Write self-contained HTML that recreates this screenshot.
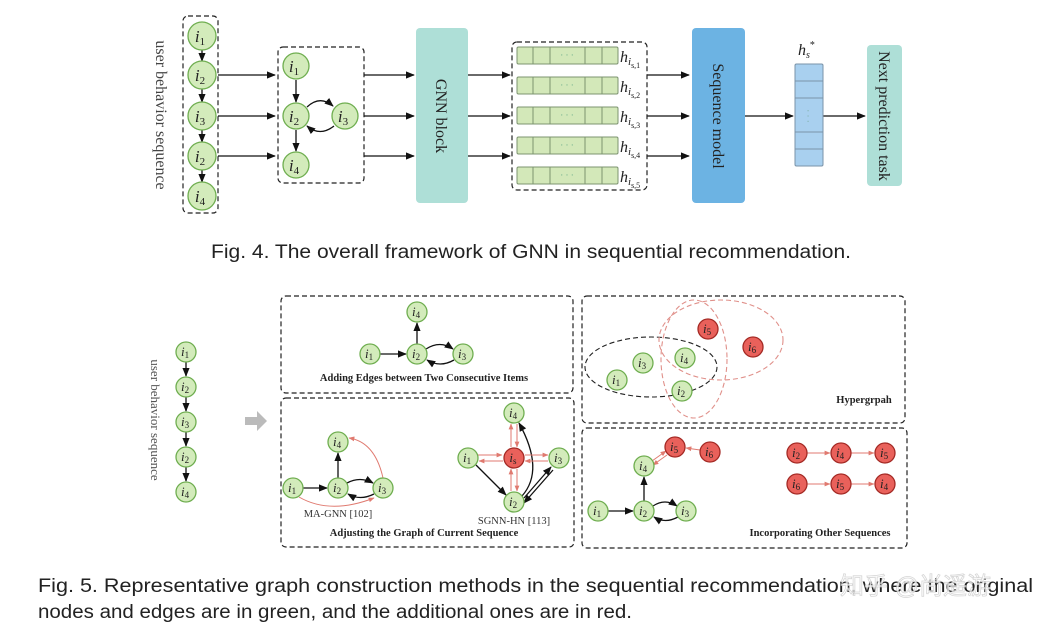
<!DOCTYPE html>
<html><head><meta charset="utf-8"><style>
html,body{margin:0;padding:0;background:#fff;}
svg{display:block}
.n{fill:#d3ebbb;stroke:#6fae50;stroke-width:1.3}
.r{fill:#e9615b;stroke:#a42a25;stroke-width:1.3}
.t{font-family:"Liberation Serif",serif;font-style:italic;text-anchor:middle;fill:#222}
.ts{font-family:"Liberation Serif",serif;font-style:italic;text-anchor:start;fill:#222}
.bx{fill:none;stroke:#222;stroke-width:1.2;stroke-dasharray:5,3}
.e{stroke:#111;stroke-width:1.3;fill:none}
.re{stroke:#e07a70;stroke-width:1;fill:none}
.lb{font-family:"Liberation Serif",serif;font-weight:bold;font-size:10.5px;text-anchor:middle;fill:#222}
.cap{font-family:"Liberation Sans",sans-serif;font-size:19px;fill:#222}
</style></head><body>
<svg width="1061" height="628" viewBox="0 0 1061 628" xmlns="http://www.w3.org/2000/svg">
<defs>
<marker id="a" viewBox="0 0 10 10" refX="9" refY="5" markerWidth="7" markerHeight="7" orient="auto"><path d="M0,1 L10,5 L0,9z" fill="#111"/></marker>
<marker id="ra" viewBox="0 0 10 10" refX="9" refY="5" markerWidth="6" markerHeight="6" orient="auto"><path d="M0,1 L10,5 L0,9z" fill="#e07a70"/></marker>
</defs>

<!-- ===== FIG 4 ===== -->
<text transform="translate(156,115) rotate(90)" text-anchor="middle" font-family="Liberation Serif,serif" font-size="16" fill="#444">user behavior sequence</text>
<rect class="bx" x="183" y="16" width="35" height="197" rx="5"/>
<g class="e" marker-end="url(#a)">
<line x1="202" y1="50" x2="202" y2="61"/><line x1="202" y1="89" x2="202" y2="102"/><line x1="202" y1="130" x2="202" y2="142"/><line x1="202" y1="170" x2="202" y2="182"/>
<line x1="218" y1="75" x2="275" y2="75"/><line x1="218" y1="116" x2="275" y2="116"/><line x1="218" y1="156" x2="275" y2="156"/>
</g>
<g font-size="17">
<circle class="n" cx="202" cy="36" r="14"/><text class="t" x="200" y="42">i<tspan font-size="11" font-style="normal" dy="3">1</tspan></text>
<circle class="n" cx="202" cy="75" r="14"/><text class="t" x="200" y="81">i<tspan font-size="11" font-style="normal" dy="3">2</tspan></text>
<circle class="n" cx="202" cy="116" r="14"/><text class="t" x="200" y="122">i<tspan font-size="11" font-style="normal" dy="3">3</tspan></text>
<circle class="n" cx="202" cy="156" r="14"/><text class="t" x="200" y="162">i<tspan font-size="11" font-style="normal" dy="3">2</tspan></text>
<circle class="n" cx="202" cy="196" r="14"/><text class="t" x="200" y="202">i<tspan font-size="11" font-style="normal" dy="3">4</tspan></text>
</g>
<rect class="bx" x="278" y="47" width="86" height="136" rx="5"/>
<g class="e" marker-end="url(#a)">
<line x1="296" y1="80" x2="296" y2="102"/><line x1="296" y1="130" x2="296" y2="151"/>
<path d="M307,107 Q320,95 333,106"/><path d="M334,126 Q320,137 307,126"/>
<line x1="364" y1="75" x2="414" y2="75"/><line x1="364" y1="116" x2="414" y2="116"/><line x1="364" y1="156" x2="414" y2="156"/>
</g>
<g font-size="17">
<circle class="n" cx="296" cy="66" r="13"/><text class="t" x="294" y="72">i<tspan font-size="11" font-style="normal" dy="3">1</tspan></text>
<circle class="n" cx="296" cy="116" r="13"/><text class="t" x="294" y="122">i<tspan font-size="11" font-style="normal" dy="3">2</tspan></text>
<circle class="n" cx="345" cy="116" r="13"/><text class="t" x="343" y="122">i<tspan font-size="11" font-style="normal" dy="3">3</tspan></text>
<circle class="n" cx="296" cy="165" r="13"/><text class="t" x="294" y="171">i<tspan font-size="11" font-style="normal" dy="3">4</tspan></text>
</g>
<rect x="416" y="28" width="52" height="175" rx="4" fill="#aedfd7"/>
<text transform="translate(436,116) rotate(90)" text-anchor="middle" font-family="Liberation Serif,serif" font-size="16" fill="#222">GNN block</text>
<g class="e" marker-end="url(#a)">
<line x1="468" y1="75" x2="510" y2="75"/><line x1="468" y1="116" x2="510" y2="116"/><line x1="468" y1="156" x2="510" y2="156"/>
<line x1="647" y1="75" x2="689" y2="75"/><line x1="647" y1="116" x2="689" y2="116"/><line x1="647" y1="156" x2="689" y2="156"/>
<line x1="745" y1="116" x2="793" y2="116"/><line x1="823" y1="116" x2="865" y2="116"/>
</g>
<rect class="bx" x="512" y="42" width="135" height="148" rx="5"/>
<g fill="#d3e8b9" stroke="#7d9470" stroke-width="1">
<g id="bar"><rect x="517" y="47" width="101" height="17" rx="1.5"/><path d="M533,47v17M550,47v17M585,47v17M602,47v17"/><text x="567" y="58" font-size="9" fill="#6a8" stroke="none" text-anchor="middle">· · ·</text></g>
<use href="#bar" y="30"/><use href="#bar" y="60"/><use href="#bar" y="90"/><use href="#bar" y="120"/>
</g>
<g font-size="16">
<text class="ts" x="620" y="62">h<tspan font-size="11" dy="3">i</tspan><tspan font-size="8" font-style="normal" dy="3">s,1</tspan></text>
<text class="ts" x="620" y="92">h<tspan font-size="11" dy="3">i</tspan><tspan font-size="8" font-style="normal" dy="3">s,2</tspan></text>
<text class="ts" x="620" y="122">h<tspan font-size="11" dy="3">i</tspan><tspan font-size="8" font-style="normal" dy="3">s,3</tspan></text>
<text class="ts" x="620" y="152">h<tspan font-size="11" dy="3">i</tspan><tspan font-size="8" font-style="normal" dy="3">s,4</tspan></text>
<text class="ts" x="620" y="182">h<tspan font-size="11" dy="3">i</tspan><tspan font-size="8" font-style="normal" dy="3">s,5</tspan></text>
</g>
<rect x="692" y="28" width="53" height="175" rx="4" fill="#6cb3e3"/>
<text transform="translate(713,116) rotate(90)" text-anchor="middle" font-family="Liberation Serif,serif" font-size="16" fill="#222">Sequence model</text>
<text class="ts" x="798" y="55" font-size="16">h<tspan font-size="10" dy="3">s</tspan><tspan font-size="10" font-style="normal" dy="-10">*</tspan></text>
<g fill="#a9d0ef" stroke="#7a93a8" stroke-width="1"><rect x="795" y="64" width="28" height="102" rx="1.5"/><path d="M795,81h28M795,98h28M795,132h28M795,149h28"/></g>
<text x="809" y="120" font-size="9" fill="#7a9" transform="rotate(90,809,116)" text-anchor="middle">· · ·</text>
<rect x="867" y="45" width="35" height="141" rx="4" fill="#aedfd7"/>
<text transform="translate(879,116) rotate(90)" text-anchor="middle" font-family="Liberation Serif,serif" font-size="16" fill="#222">Next prediction task</text>
<text class="cap" x="211" y="258" textLength="640" lengthAdjust="spacingAndGlyphs">Fig. 4.  The overall framework of GNN in sequential recommendation.</text>

<!-- ===== FIG 5 ===== -->
<text transform="translate(151,420) rotate(90)" text-anchor="middle" font-family="Liberation Serif,serif" font-size="13" fill="#555">user behavior sequence</text>
<g class="e" marker-end="url(#a)" stroke-width="1">
<line x1="186" y1="362" x2="186" y2="376"/><line x1="186" y1="397" x2="186" y2="411"/><line x1="186" y1="432" x2="186" y2="446"/><line x1="186" y1="467" x2="186" y2="481"/>
</g>
<path d="M245,417 h12 v-6 l10,10 l-10,10 v-6 h-12z" fill="#bbb"/>
<rect class="bx" x="281" y="296" width="292" height="97" rx="5"/>
<rect class="bx" x="281" y="398" width="293" height="149" rx="5"/>
<rect class="bx" x="582" y="296" width="323" height="127" rx="5"/>
<rect class="bx" x="582" y="428" width="325" height="120" rx="5"/>

<g class="e" marker-end="url(#a)" stroke-width="1.1">
<line x1="380" y1="354" x2="406" y2="354"/><line x1="417" y1="344" x2="417" y2="323"/><path d="M426,349 Q440,340 453,349"/><path d="M454,360 Q440,368 427,360"/>
<line x1="303" y1="488" x2="327" y2="488"/><line x1="338" y1="478" x2="338" y2="453"/><path d="M347,483 Q360,476 373,483"/><path d="M374,494 Q360,501 348,494"/>
<line x1="476" y1="465" x2="506" y2="495"/><path d="M522,496 Q545,470 519,423"/><line x1="524" y1="498" x2="551" y2="467"/><line x1="553" y1="470" x2="524" y2="503"/>
<line x1="608" y1="511" x2="633" y2="511"/><line x1="644" y1="501" x2="644" y2="477"/><path d="M653,506 Q665,498 677,506"/><path d="M678,517 Q665,524 654,517"/>
</g>
<g class="re" marker-end="url(#ra)">
<path d="M299,497 Q330,515 374,498"/><path d="M383,478 Q375,442 349,438"/>
<line x1="478" y1="455" x2="502" y2="455"/><line x1="503" y1="461" x2="479" y2="461"/>
<line x1="525" y1="455" x2="548" y2="455"/><line x1="548" y1="461" x2="525" y2="461"/>
<line x1="511" y1="447" x2="511" y2="424"/><line x1="517" y1="424" x2="517" y2="447"/>
<line x1="511" y1="491" x2="511" y2="469"/><line x1="517" y1="469" x2="517" y2="491"/>
<line x1="652" y1="461" x2="666" y2="451"/><line x1="667" y1="455" x2="653" y2="465"/><line x1="700" y1="450" x2="686" y2="448"/>
<line x1="807" y1="453" x2="830" y2="453"/><line x1="851" y1="453" x2="874" y2="453"/>
<line x1="807" y1="484" x2="830" y2="484"/><line x1="851" y1="484" x2="874" y2="484"/>
</g>
<g fill="none" stroke-dasharray="5,3" stroke-width="1.1">
<ellipse cx="651" cy="367" rx="66" ry="30" stroke="#222"/>
<ellipse cx="694" cy="359" rx="33" ry="59" stroke="#e0908a"/>
<ellipse cx="721" cy="340" rx="62" ry="40" stroke="#e0908a"/>
</g>

<g font-size="13">
<circle class="n" cx="186" cy="352" r="10"/><text class="t" x="185" y="356">i<tspan font-size="9" font-style="normal" dy="2">1</tspan></text>
<circle class="n" cx="186" cy="387" r="10"/><text class="t" x="185" y="391">i<tspan font-size="9" font-style="normal" dy="2">2</tspan></text>
<circle class="n" cx="186" cy="422" r="10"/><text class="t" x="185" y="426">i<tspan font-size="9" font-style="normal" dy="2">3</tspan></text>
<circle class="n" cx="186" cy="457" r="10"/><text class="t" x="185" y="461">i<tspan font-size="9" font-style="normal" dy="2">2</tspan></text>
<circle class="n" cx="186" cy="492" r="10"/><text class="t" x="185" y="496">i<tspan font-size="9" font-style="normal" dy="2">4</tspan></text>
<circle class="n" cx="417" cy="312" r="10"/><text class="t" x="416" y="316">i<tspan font-size="9" font-style="normal" dy="2">4</tspan></text>
<circle class="n" cx="370" cy="354" r="10"/><text class="t" x="369" y="358">i<tspan font-size="9" font-style="normal" dy="2">1</tspan></text>
<circle class="n" cx="417" cy="354" r="10"/><text class="t" x="416" y="358">i<tspan font-size="9" font-style="normal" dy="2">2</tspan></text>
<circle class="n" cx="463" cy="354" r="10"/><text class="t" x="462" y="358">i<tspan font-size="9" font-style="normal" dy="2">3</tspan></text>
<circle class="n" cx="338" cy="442" r="10"/><text class="t" x="337" y="446">i<tspan font-size="9" font-style="normal" dy="2">4</tspan></text>
<circle class="n" cx="293" cy="488" r="10"/><text class="t" x="292" y="492">i<tspan font-size="9" font-style="normal" dy="2">1</tspan></text>
<circle class="n" cx="338" cy="488" r="10"/><text class="t" x="337" y="492">i<tspan font-size="9" font-style="normal" dy="2">2</tspan></text>
<circle class="n" cx="383" cy="488" r="10"/><text class="t" x="382" y="492">i<tspan font-size="9" font-style="normal" dy="2">3</tspan></text>
<circle class="n" cx="514" cy="413" r="10"/><text class="t" x="513" y="417">i<tspan font-size="9" font-style="normal" dy="2">4</tspan></text>
<circle class="n" cx="468" cy="458" r="10"/><text class="t" x="467" y="462">i<tspan font-size="9" font-style="normal" dy="2">1</tspan></text>
<circle class="r" cx="514" cy="458" r="10"/><text class="t" x="513" y="462">i<tspan font-size="9" font-style="normal" dy="2">s</tspan></text>
<circle class="n" cx="559" cy="458" r="10"/><text class="t" x="558" y="462">i<tspan font-size="9" font-style="normal" dy="2">3</tspan></text>
<circle class="n" cx="514" cy="502" r="10"/><text class="t" x="513" y="506">i<tspan font-size="9" font-style="normal" dy="2">2</tspan></text>
<circle class="n" cx="617" cy="380" r="10"/><text class="t" x="616" y="384">i<tspan font-size="9" font-style="normal" dy="2">1</tspan></text>
<circle class="n" cx="643" cy="363" r="10"/><text class="t" x="642" y="367">i<tspan font-size="9" font-style="normal" dy="2">3</tspan></text>
<circle class="n" cx="685" cy="358" r="10"/><text class="t" x="684" y="362">i<tspan font-size="9" font-style="normal" dy="2">4</tspan></text>
<circle class="n" cx="682" cy="391" r="10"/><text class="t" x="681" y="395">i<tspan font-size="9" font-style="normal" dy="2">2</tspan></text>
<circle class="r" cx="708" cy="329" r="10"/><text class="t" x="707" y="333">i<tspan font-size="9" font-style="normal" dy="2">5</tspan></text>
<circle class="r" cx="753" cy="347" r="10"/><text class="t" x="752" y="351">i<tspan font-size="9" font-style="normal" dy="2">6</tspan></text>
<circle class="n" cx="598" cy="511" r="10"/><text class="t" x="597" y="515">i<tspan font-size="9" font-style="normal" dy="2">1</tspan></text>
<circle class="n" cx="644" cy="511" r="10"/><text class="t" x="643" y="515">i<tspan font-size="9" font-style="normal" dy="2">2</tspan></text>
<circle class="n" cx="686" cy="511" r="10"/><text class="t" x="685" y="515">i<tspan font-size="9" font-style="normal" dy="2">3</tspan></text>
<circle class="n" cx="644" cy="466" r="10"/><text class="t" x="643" y="470">i<tspan font-size="9" font-style="normal" dy="2">4</tspan></text>
<circle class="r" cx="675" cy="447" r="10"/><text class="t" x="674" y="451">i<tspan font-size="9" font-style="normal" dy="2">5</tspan></text>
<circle class="r" cx="710" cy="452" r="10"/><text class="t" x="709" y="456">i<tspan font-size="9" font-style="normal" dy="2">6</tspan></text>
<circle class="r" cx="797" cy="453" r="10"/><text class="t" x="796" y="457">i<tspan font-size="9" font-style="normal" dy="2">2</tspan></text>
<circle class="r" cx="841" cy="453" r="10"/><text class="t" x="840" y="457">i<tspan font-size="9" font-style="normal" dy="2">4</tspan></text>
<circle class="r" cx="885" cy="453" r="10"/><text class="t" x="884" y="457">i<tspan font-size="9" font-style="normal" dy="2">5</tspan></text>
<circle class="r" cx="797" cy="484" r="10"/><text class="t" x="796" y="488">i<tspan font-size="9" font-style="normal" dy="2">6</tspan></text>
<circle class="r" cx="841" cy="484" r="10"/><text class="t" x="840" y="488">i<tspan font-size="9" font-style="normal" dy="2">5</tspan></text>
<circle class="r" cx="885" cy="484" r="10"/><text class="t" x="884" y="488">i<tspan font-size="9" font-style="normal" dy="2">4</tspan></text>
</g>
<text class="lb" x="424" y="381">Adding Edges between Two Consecutive Items</text>
<text x="338" y="517" font-family="Liberation Serif,serif" font-size="10.5" text-anchor="middle" fill="#333">MA-GNN [102]</text>
<text x="514" y="524" font-family="Liberation Serif,serif" font-size="10.5" text-anchor="middle" fill="#333">SGNN-HN [113]</text>
<text class="lb" x="424" y="536">Adjusting the Graph of Current Sequence</text>
<text class="lb" x="864" y="403">Hypergrpah</text>
<text class="lb" x="820" y="536">Incorporating Other Sequences</text>
<text class="cap" x="38" y="592" textLength="995" lengthAdjust="spacingAndGlyphs">Fig. 5.  Representative graph construction methods in the sequential recommendation, where the original</text>
<text class="cap" x="38" y="618" textLength="594" lengthAdjust="spacingAndGlyphs">nodes and edges are in green, and the additional ones are in red.</text>
<text x="840" y="594" font-family="Liberation Sans,'Noto Sans CJK SC',sans-serif" font-size="24" fill="#fff" stroke="#ccc" stroke-width="0.8" opacity="0.8">知乎 @尚遥游</text>
</svg>
</body></html>
